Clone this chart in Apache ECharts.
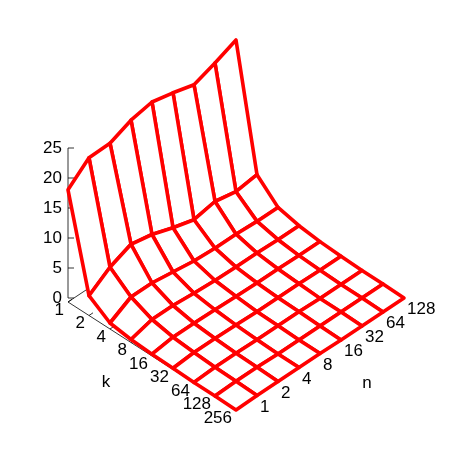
<!DOCTYPE html>
<html>
<head>
<meta charset="utf-8">
<script src="https://cdn.jsdelivr.net/npm/echarts@6/dist/echarts.min.js"></script>
<style>html,body{margin:0;padding:0;background:#fff}#main{width:474px;height:474px}</style>
</head>
<body>
<div id="main"></div>
<script>
// 数据
var kLabels = ['1', '2', '4', '8', '16', '32', '64', '128', '256'];
var nLabels = ['', '1', '2', '4', '8', '16', '32', '64', '128'];
var zTicks = [0, 5, 10, 15, 20, 25];
var zK1 = [18.7, 21.7, 21.8, 23.3, 24, 23.2, 22.2, 23.5, 25];
var zK2 = [3.3, 5.7, 7.2, 6.5, 5.3, 4.3, 5, 4.3, 4.8];
var zK4 = [1, 3, 3, 2.5, 2, 1.8, 1.8, 1.6, 1.6];
var zK8 = [0.5, 1.5, 1.5, 1.2, 1, 0.9, 0.9, 0.8, 0.8];
var zK16 = [0.3, 0.8, 0.8, 0.7, 0.6, 0.5, 0.5, 0.4, 0.4];
var zK32 = [0.2, 0.5, 0.5, 0.4, 0.3, 0.3, 0.3, 0.2, 0.2];
var zK64 = [0.1, 0.3, 0.3, 0.2, 0.2, 0.2, 0.1, 0.1, 0.1];
var zK128 = [0.1, 0.2, 0.2, 0.1, 0.1, 0.1, 0.1, 0.1, 0.1];
var zK256 = [0, 0.1, 0.1, 0.1, 0.1, 0, 0, 0, 0];
var rows = [zK1, zK2, zK4, zK8, zK16, zK32, zK64, zK128, zK256];

(function() {
	var myChart = echarts.init(document.getElementById('main'));
	// 简单的斜投影
	function proj(i, j, z) {
		return [68 + 21 * i + 21 * j, 302 + 13.5 * i - 14 * j - 6 * z];
	}
	var black = {stroke: '#000', lineWidth: 0.8, fill: null};
	var font = '17px "Liberation Sans", Arial, sans-serif';

	// 坐标轴元素
	var axisEls = [];
	function line(a, b) {
		axisEls.push({type: 'line', shape: {x1: a[0], y1: a[1], x2: b[0], y2: b[1]}, style: black});
	}
	function text(t, x, y, align) {
		axisEls.push({type: 'text', x: x, y: y, style: {text: t, font: font, fill: '#000', align: align, verticalAlign: 'middle'}});
	}
	var c0 = proj(0, 0, 0), cb = proj(0, 8, 0), cr = proj(8, 8, 0), cf = proj(8, 0, 0);
	line(c0, cb); line(cb, cr); line(c0, cf); line(cf, cr);
	line(cb, proj(0, 8, 25));
	// z 轴
	line([68, 298], [68, 148]);
	zTicks.forEach(function(t) {
		var y = 298 - 6 * t;
		line([68, y], [74, y]);
		text(String(t), 62, y, 'right');
	});
	kLabels.forEach(function(t, i) {
		var p = proj(i, 0, 0);
		line(p, [p[0] + 4, p[1] - 2.7]);
		text(t, p[0] - 4, p[1] + 8, 'right');
	});
	nLabels.forEach(function(t, j) {
		var p = proj(8, j, 0);
		if (!t) return;
		line(p, [p[0] - 4, p[1] - 2.6]);
		text(t, p[0] + 3, p[1] + 11, 'left');
	});
	text('k', 106, 382, 'center');
	text('n', 367, 383, 'center');

	// 曲面网格：从后往前画
	var quads = [];
	for (var i = 0; i < 8; i++) {
		for (var j = 0; j < 8; j++) quads.push([i, j, i - j]);
	}
	quads.sort(function(a, b) { return a[2] - b[2]; });

	option = {
		animation: false,
		graphic: {elements: axisEls},
		series: [{
			type: 'custom',
			coordinateSystem: 'none',
			data: quads,
			z: 10,
			renderItem: function(params, api) {
				var i = api.value(0), j = api.value(1);
				var pts = [
					proj(i, j, rows[i][j]),
					proj(i, j + 1, rows[i][j + 1]),
					proj(i + 1, j + 1, rows[i + 1][j + 1]),
					proj(i + 1, j, rows[i + 1][j])
				];
				return {
					type: 'polygon',
					shape: {points: pts},
					style: {fill: '#fff', stroke: '#ff0000', lineWidth: 3.6, lineJoin: 'round'}
				};
			}
		}]
	};
	myChart.setOption(option);
})();
</script>
</body>
</html>
